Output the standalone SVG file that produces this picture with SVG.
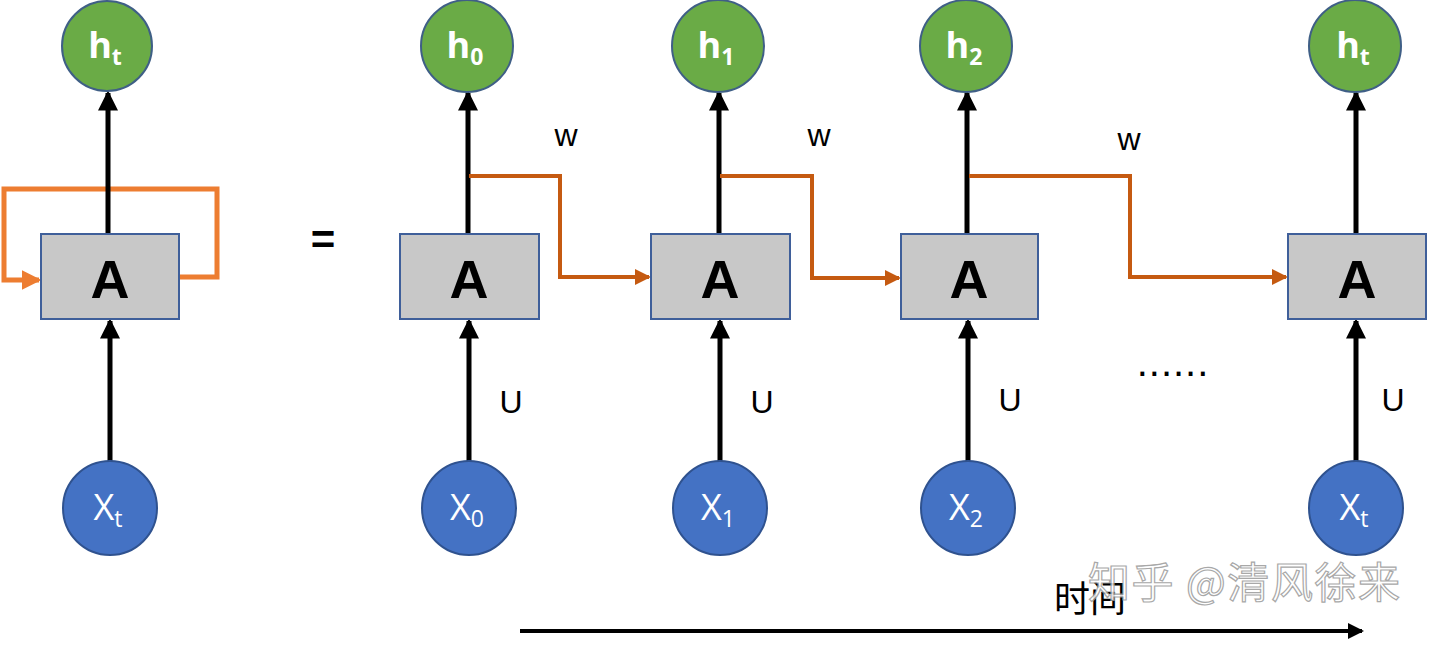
<svg xmlns="http://www.w3.org/2000/svg" width="1437" height="645" viewBox="0 0 1437 645">
<style>
.h{fill:#6aab46;stroke:#3f5f86;stroke-width:2}
.x{fill:#4472c4;stroke:#2f528f;stroke-width:2}
.box{fill:#c8c8c8;stroke:#3f5f9a;stroke-width:2}
.ct{font-family:"Open Sans","Liberation Sans",sans-serif;font-size:36px;fill:#fff;text-anchor:middle;font-weight:bold}
.cx{font-weight:normal}
.sub{font-size:23px}
.A{font-family:"Liberation Sans",sans-serif;font-size:54px;font-weight:bold;text-anchor:middle}
.lbl{font-family:"Liberation Sans",sans-serif;font-size:32px;fill:#000}
.bk{stroke:#000;stroke-width:5;fill:none}
.or{stroke:#c55a11;stroke-width:4;fill:none}
.or2{stroke:#ed7d31;stroke-width:5;fill:none}
</style>
<defs>
<marker id="ab" markerWidth="4" markerHeight="4" refX="3.5" refY="2" orient="auto" markerUnits="strokeWidth"><path d="M0,0L4,2L0,4z" fill="#000"/></marker>
<marker id="ao" markerWidth="4" markerHeight="4" refX="3.5" refY="2" orient="auto" markerUnits="strokeWidth"><path d="M0,0L4,2L0,4z" fill="#c55a11"/></marker>
<marker id="ao2" markerWidth="4" markerHeight="4" refX="3.5" refY="2" orient="auto" markerUnits="strokeWidth"><path d="M0,0L4,2L0,4z" fill="#ed7d31"/></marker>
</defs>
<g id="connectors">
<path class="or2" d="M179,277H217V189H4V280H39" marker-end="url(#ao2)"/>
<path class="bk" d="M108,234V93" marker-end="url(#ab)"/>
<path class="bk" d="M110,461V321" marker-end="url(#ab)"/>
<path class="bk" d="M468,234V93" marker-end="url(#ab)"/>
<path class="bk" d="M469,461V321" marker-end="url(#ab)"/>
<path class="bk" d="M719,234V93" marker-end="url(#ab)"/>
<path class="bk" d="M720,461V321" marker-end="url(#ab)"/>
<path class="bk" d="M967,234V93" marker-end="url(#ab)"/>
<path class="bk" d="M968,461V321" marker-end="url(#ab)"/>
<path class="bk" d="M1356,234V93" marker-end="url(#ab)"/>
<path class="bk" d="M1356,461V321" marker-end="url(#ab)"/>
<path class="or" d="M469,176H560V277H649" marker-end="url(#ao)"/>
<path class="or" d="M720,176H812V278H899" marker-end="url(#ao)"/>
<path class="or" d="M969,176H1130V277H1286" marker-end="url(#ao)"/>
<path class="bk" style="stroke-width:4" d="M520,631H1362" marker-end="url(#ab)"/>
</g>
<g id="n-ht-left"><circle class="h" cx="107" cy="46" r="45"/><text class="ct" x="105" y="58">h<tspan class="sub" dy="7">t</tspan></text></g>
<g id="n-A-left"><rect class="box" x="41" y="234" width="138" height="85"/><text class="A" x="110" y="298">A</text></g>
<g id="n-xt-left"><circle class="x" cx="110" cy="508" r="47"/><text class="ct cx" x="108" y="520">X<tspan class="sub" dy="7">t</tspan></text></g>
<text class="lbl" x="323" y="254" text-anchor="middle" style="font-size:42px;font-weight:bold">=</text>
<g id="n-h0"><circle class="h" cx="467" cy="46" r="46"/><text class="ct" x="465" y="58">h<tspan class="sub" dy="7">0</tspan></text></g>
<g id="n-A0"><rect class="box" x="400" y="234" width="139" height="85"/><text class="A" x="469" y="298">A</text></g>
<g id="n-x0"><circle class="x" cx="469" cy="508" r="47"/><text class="ct cx" x="467" y="520">X<tspan class="sub" dy="7">0</tspan></text></g>
<g id="n-h1"><circle class="h" cx="718" cy="46" r="46"/><text class="ct" x="716" y="58">h<tspan class="sub" dy="7">1</tspan></text></g>
<g id="n-A1"><rect class="box" x="651" y="234" width="139" height="85"/><text class="A" x="720" y="298">A</text></g>
<g id="n-x1"><circle class="x" cx="720" cy="508" r="47"/><text class="ct cx" x="718" y="520">X<tspan class="sub" dy="7">1</tspan></text></g>
<g id="n-h2"><circle class="h" cx="966" cy="46" r="46"/><text class="ct" x="964" y="58">h<tspan class="sub" dy="7">2</tspan></text></g>
<g id="n-A2"><rect class="box" x="901" y="234" width="137" height="85"/><text class="A" x="969" y="298">A</text></g>
<g id="n-x2"><circle class="x" cx="968" cy="508" r="47"/><text class="ct cx" x="966" y="520">X<tspan class="sub" dy="7">2</tspan></text></g>
<g id="n-ht"><circle class="h" cx="1355" cy="46" r="46"/><text class="ct" x="1353" y="58">h<tspan class="sub" dy="7">t</tspan></text></g>
<g id="n-At"><rect class="box" x="1288" y="234" width="138" height="85"/><text class="A" x="1357" y="298">A</text></g>
<g id="n-xt"><circle class="x" cx="1356" cy="508" r="47"/><text class="ct cx" x="1354" y="520">X<tspan class="sub" dy="7">t</tspan></text></g>
<g class="lbl">
<text x="566" y="146" text-anchor="middle">w</text>
<text x="819" y="146" text-anchor="middle">w</text>
<text x="1129" y="150" text-anchor="middle">w</text>
<text x="511" y="413" text-anchor="middle">U</text>
<text x="762" y="413" text-anchor="middle">U</text>
<text x="1010" y="411" text-anchor="middle">U</text>
<text x="1393" y="411" text-anchor="middle">U</text>
<text x="1173" y="376" text-anchor="middle" style="font-size:40px;letter-spacing:1px">......</text>
<text x="1090" y="612" text-anchor="middle" style="font-family:'Noto Sans CJK SC',sans-serif;font-size:36px">时间</text>
</g>
<text x="1088" y="598" textLength="312" style="font-family:'Noto Sans CJK SC',sans-serif;font-size:42px;fill:#fff;stroke:#999;stroke-width:1.2;opacity:0.85">知乎 @清风徐来</text>
</svg>
